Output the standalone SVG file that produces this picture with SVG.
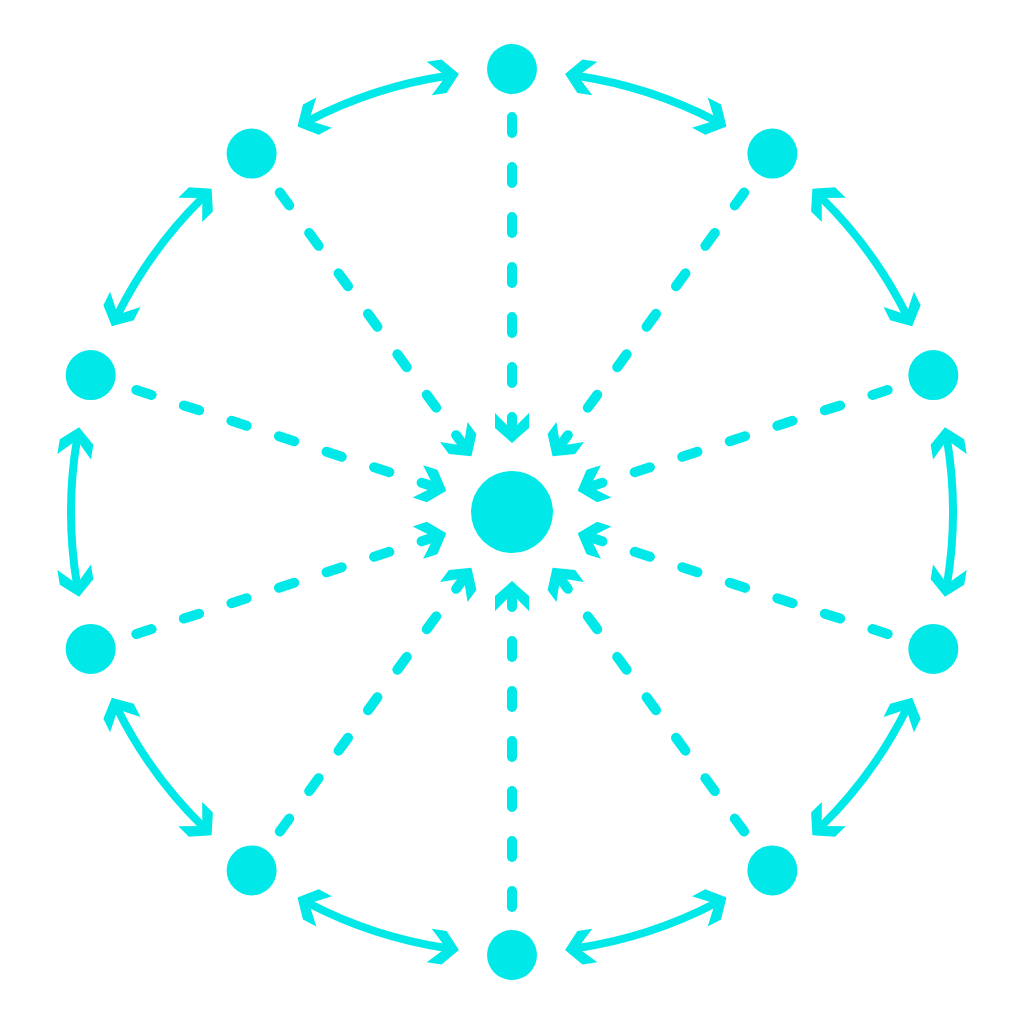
<svg xmlns="http://www.w3.org/2000/svg" width="1024" height="1024" viewBox="0 0 1024 1024">
<style>
.node{fill:#00e8e8}
.spoke{fill:none;stroke:#00e8e8;stroke-width:10;stroke-linecap:round;stroke-dasharray:16 34;marker-end:url(#ah)}
.arc{fill:none;stroke:#00e8e8;stroke-width:8;marker-start:url(#ah);marker-end:url(#ah)}
</style>
<defs>
<marker id="ah" markerUnits="userSpaceOnUse" markerWidth="40" markerHeight="40" refX="0" refY="0" orient="auto-start-reverse" overflow="visible">
<path d="M13,0 L-2,17 L-17,17 L0,0 L-17,-17 L-2,-17 Z" fill="#00e8e8"/>
</marker>
</defs>
<rect width="1024" height="1024" fill="#ffffff"/>
<g id="connectors">
<path class="spoke" d="M512,117 L512,430"/>
<path class="spoke" d="M744.18,192.44 L560.20,445.66"/>
<path class="spoke" d="M887.67,389.94 L589.99,486.66"/>
<path class="spoke" d="M887.67,634.06 L589.99,537.34"/>
<path class="spoke" d="M744.18,831.56 L560.20,578.34"/>
<path class="spoke" d="M512,907 L512,594"/>
<path class="spoke" d="M279.82,831.56 L463.80,578.34"/>
<path class="spoke" d="M136.33,634.06 L434.01,537.34"/>
<path class="spoke" d="M136.33,389.94 L434.01,486.66"/>
<path class="spoke" d="M279.82,192.44 L463.80,445.66"/>
<path class="arc" d="M577.95,75.96 A441,441 0 0 1 714.95,120.47"/>
<path class="arc" d="M821.65,198.00 A441,441 0 0 1 906.32,314.54"/>
<path class="arc" d="M947.08,439.97 A441,441 0 0 1 947.08,584.03"/>
<path class="arc" d="M906.32,709.46 A441,441 0 0 1 821.65,826.00"/>
<path class="arc" d="M714.95,903.53 A441,441 0 0 1 577.95,948.04"/>
<path class="arc" d="M446.05,948.04 A441,441 0 0 1 309.05,903.53"/>
<path class="arc" d="M202.35,826.00 A441,441 0 0 1 117.68,709.46"/>
<path class="arc" d="M76.92,584.03 A441,441 0 0 1 76.92,439.97"/>
<path class="arc" d="M117.68,314.54 A441,441 0 0 1 202.35,198.00"/>
<path class="arc" d="M309.05,120.47 A441,441 0 0 1 446.05,75.96"/>
</g>
<g id="center"><circle class="node" cx="512" cy="512" r="41"/></g>
<g id="node-0"><circle class="node" cx="512" cy="69" r="25"/></g>
<g id="node-1"><circle class="node" cx="772.39" cy="153.61" r="25"/></g>
<g id="node-2"><circle class="node" cx="933.31" cy="375.11" r="25"/></g>
<g id="node-3"><circle class="node" cx="933.31" cy="648.89" r="25"/></g>
<g id="node-4"><circle class="node" cx="772.39" cy="870.39" r="25"/></g>
<g id="node-5"><circle class="node" cx="512" cy="955" r="25"/></g>
<g id="node-6"><circle class="node" cx="251.61" cy="870.39" r="25"/></g>
<g id="node-7"><circle class="node" cx="90.69" cy="648.89" r="25"/></g>
<g id="node-8"><circle class="node" cx="90.69" cy="375.11" r="25"/></g>
<g id="node-9"><circle class="node" cx="251.61" cy="153.61" r="25"/></g>
</svg>
